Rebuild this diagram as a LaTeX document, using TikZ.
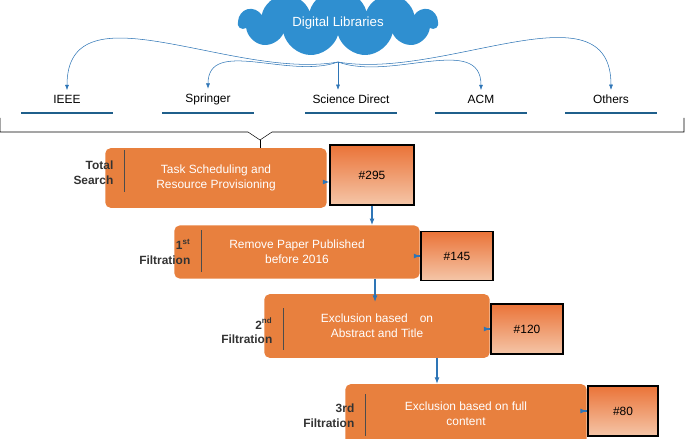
\documentclass[tikz,border=0pt]{standalone}
\usepackage{fontspec}
\setmainfont{Liberation Sans}
\usetikzlibrary{shapes.symbols,positioning,arrows.meta}
\definecolor{cloudblue}{HTML}{2F8FD0}
\definecolor{linkblue}{HTML}{2E75B6}
\definecolor{boxorange}{HTML}{E8803E}
\definecolor{darkline}{HTML}{1F5F8B}
\tikzset{
  phase/.style={rounded corners=4pt,fill=boxorange,text=white,align=center,font=\small,inner sep=2pt},
  count/.style={draw=black,very thick,top color=boxorange!90!red,bottom color=boxorange!45,font=\small,align=center},
  lib/.style={font=\small},
  stage/.style={font=\small\bfseries,align=right,anchor=east,text=black!80},
  flow/.style={-{Latex[length=5pt]},linkblue,thick},
  fan/.style={-{Latex[length=4pt]},linkblue}
}
\begin{document}
\begin{tikzpicture}[x=0.0265cm,y=-0.0265cm]
	\useasboundingbox (0,0) rectangle (685,439);
	% source
	\node[cloud,cloud puffs=11,aspect=3.2,fill=cloudblue,text=white,minimum width=150,minimum height=40,inner sep=0pt] (dl) at (338,23) {Digital Libraries};
	\coordinate (hub) at (338,62);
	% libraries
	\foreach \n/\x/\t in {ieee/67/IEEE,spr/208/Springer,sd/351/Science Direct,acm/481/ACM,oth/611/Others}{
		\node[lib] (\n) at (\x,99) {\t};
		\draw[darkline,line width=1.6pt] (\x-46,113) -- (\x+46,113);
	}
	\draw[fan] (hub) to[out=190,in=90] (ieee.north);
	\draw[fan] (hub) to[out=200,in=90] (spr.north);
	\draw[fan] (hub) -- (hub |- sd.north);
	\draw[fan] (hub) to[out=-20,in=90] (acm.north);
	\draw[fan] (hub) to[out=-10,in=90] (oth.north);
	% brace
	\coordinate (tip) at (260,140);
	\draw (0,118) -- (0,132) -- (248,132) -- (tip) -- (272,132) -- (684,132) -- (684,118);
	% stages
	\node[phase,minimum width=167,minimum height=45] (s0) at (216,178) {Task Scheduling and\\Resource Provisioning};
	\node[count,minimum width=63,minimum height=45] (c0) at (372,175) {\#295};
	\node[phase,minimum width=185,minimum height=40] (s1) at (297,252) {Remove Paper Published\\before 2016};
	\node[count,minimum width=54,minimum height=37] (c1) at (457,256) {\#145};
	\node[phase,minimum width=170,minimum height=48] (s2) at (377,326) {Exclusion based\quad on\\Abstract and Title};
	\node[count,minimum width=54,minimum height=38] (c2) at (527,329) {\#120};
	\node[phase,minimum width=182,minimum height=45] (s3) at (466,414) {Exclusion based on full\\content};
	\node[count,minimum width=53,minimum height=38] (c3) at (623,411) {\#80};
	% stage labels
	\node[stage] (l0) at (118,173) {Total\\Search};
	\node[stage] (l1) at (195,252) {1\textsuperscript{st}\\Filtration};
	\node[stage] (l2) at (277,331) {2\textsuperscript{nd}\\Filtration};
	\node[stage] (l3) at (359,416) {3rd\\Filtration};
	\draw[black!70] (124,150) -- (124,192);
	\draw[black!70] (201,230) -- (201,272);
	\draw[black!70] (283,308) -- (283,350);
	\draw[black!70] (365,394) -- (365,436);
	% connectors
	\draw (tip) -- (tip |- s0.north);
	\draw[flow] (s0.east |- 0,182) -- (c0.west |- 0,182);
	\draw[flow] (c0.south) -- (c0.south |- s1.north);
	\draw[flow] (s1.east |- c1.west) -- (c1.west);
	\draw[flow] (s1.south -| 375,0) -- (375,302);
	\draw[flow] (s2.east |- c2.west) -- (c2.west);
	\draw[flow] (s2.south -| 437,0) -- (s3.north -| 437,0);
	\draw[flow] (s3.east |- c3.west) -- (c3.west);
\end{tikzpicture}
\end{document}
